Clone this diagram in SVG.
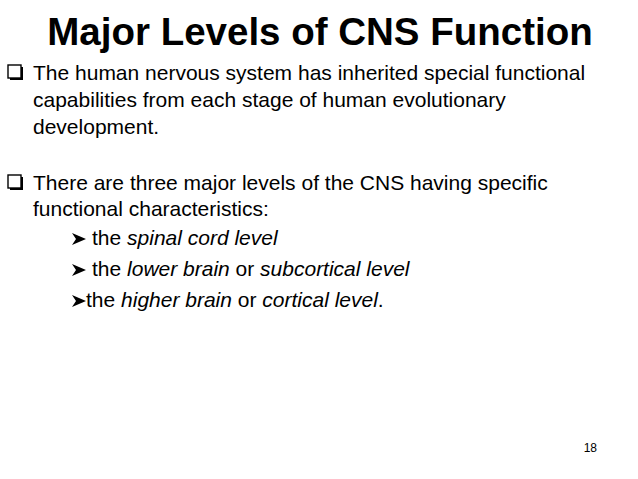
<svg xmlns="http://www.w3.org/2000/svg" width="638" height="479" viewBox="0 0 638 479">
<style>
text{font-family:"Liberation Sans",Arial,sans-serif;fill:#000}
.b{font-size:21px}
.i{font-style:italic}
</style>
<defs>
<g id="box"><rect x="2" y="2" width="13" height="13" fill="#000"/><rect x="0" y="0" width="13" height="13" fill="#fff" stroke="#000" stroke-width="1.4"/></g>
<path id="arr" d="M0,0 L14,6 L0,12 L4,6 Z" fill="#000"/>
</defs>
<rect width="638" height="479" fill="#fff"/>
<text x="320" y="45" text-anchor="middle" font-size="38.5" font-weight="bold">Major Levels of CNS Function</text>
<use href="#box" x="8" y="65"/>
<text class="b" x="33" y="80">The human nervous system has inherited special functional</text>
<text class="b" x="33" y="107">capabilities from each stage of human evolutionary</text>
<text class="b" x="33" y="134">development.</text>
<use href="#box" x="8" y="175"/>
<text class="b" x="33" y="190">There are three major levels of the CNS having specific</text>
<text class="b" x="33" y="216">functional characteristics:</text>
<use href="#arr" x="72" y="233"/>
<text class="b" x="92" y="245">the <tspan class="i">spinal cord level</tspan></text>
<use href="#arr" x="72" y="264"/>
<text class="b" x="92" y="276">the <tspan class="i">lower brain</tspan> or <tspan class="i">subcortical level</tspan></text>
<use href="#arr" x="72" y="295"/>
<text class="b" x="86" y="307">the <tspan class="i">higher brain</tspan> or <tspan class="i">cortical level</tspan>.</text>
<text x="597" y="452" text-anchor="end" font-size="12">18</text>
</svg>
